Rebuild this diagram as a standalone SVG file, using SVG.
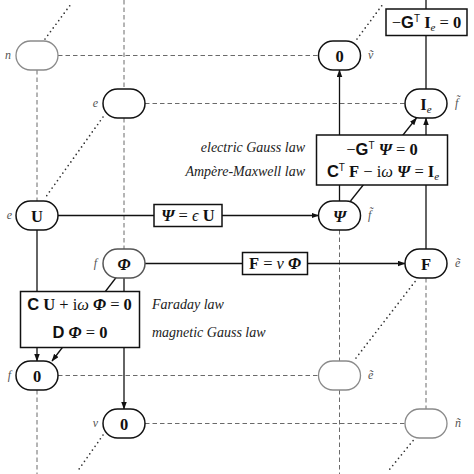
<svg xmlns="http://www.w3.org/2000/svg" width="474" height="474" viewBox="0 0 474 474">
<style>
.dash{stroke:#6a6a6a;stroke-width:1;stroke-dasharray:4.5 3;fill:none}
.dot{stroke:#333;stroke-width:1.7;stroke-linecap:round;stroke-dasharray:0 4.6;fill:none}
.ln{stroke:#111;stroke-width:1.3;fill:none}
.arr{stroke:#111;stroke-width:1.3;fill:none;marker-end:url(#ah)}
.nd{fill:#fff;stroke:#111;stroke-width:1.5}
.ng{fill:#fff;stroke:#8a8a8a;stroke-width:1.3}
.box{fill:#fff;stroke:#111;stroke-width:1.5}
text{font-family:"Liberation Serif","Times New Roman",serif;fill:#111}
.eq{font-size:16.5px}
.b{font-weight:bold}
.bi{font-weight:bold;font-style:italic}
.it{font-style:italic}
.sf{font-family:"Liberation Sans",Arial,sans-serif;font-weight:bold}
.sup{font-family:"Liberation Sans",Arial,sans-serif;font-size:10px}
.sub{font-style:italic;font-size:11px}
.lbl{font-size:12px;font-style:italic;fill:#555}
.law{font-size:14px;font-style:italic;fill:#222}
</style>
<defs>
<marker id="ah" markerWidth="8" markerHeight="6" refX="7" refY="2.75" orient="auto" markerUnits="userSpaceOnUse">
<path d="M0,0 L7.5,2.75 L0,5.5 z" fill="#111"/>
</marker>
</defs>
<g id="grid">
<line class="dash" x1="58" y1="55.5" x2="318.5" y2="55.5"/>
<line class="dash" x1="145" y1="103.5" x2="405" y2="103.5"/>
<line class="dash" x1="58" y1="375.5" x2="318.5" y2="375.5"/>
<line class="dash" x1="145" y1="423.5" x2="405" y2="423.5"/>
<line class="dash" x1="37" y1="70" x2="37" y2="201"/>
<line class="dash" x1="37" y1="390" x2="37" y2="474"/>
<line class="dash" x1="124" y1="0" x2="124" y2="89"/>
<line class="dash" x1="124" y1="118" x2="124" y2="249"/>
<line class="dash" x1="339.5" y1="230" x2="339.5" y2="361"/>
<line class="dash" x1="339.5" y1="390" x2="339.5" y2="474"/>
<line class="dash" x1="426" y1="278" x2="426" y2="409"/>
<line class="dot" x1="45" y1="39" x2="71" y2="4"/>
<line class="dot" x1="103" y1="117" x2="45" y2="198"/>
<line class="dot" x1="357" y1="39" x2="383" y2="4"/>
<line class="dot" x1="356" y1="358" x2="417" y2="279"/>
<line class="dot" x1="416" y1="437" x2="389" y2="470"/>
<line class="dot" x1="103" y1="435" x2="77" y2="472"/>
</g>
<g id="connectors">
<line class="ln" x1="426" y1="0" x2="426" y2="89"/>
<line class="arr" x1="339.5" y1="135" x2="339.5" y2="70"/>
<line class="arr" x1="426" y1="135" x2="426" y2="118"/>
<line class="arr" x1="350.5" y1="201" x2="416.5" y2="118"/>
<line class="ln" x1="339.5" y1="201" x2="339.5" y2="185"/>
<line class="ln" x1="426" y1="249" x2="426" y2="185"/>
<line class="arr" x1="58" y1="215.5" x2="318.5" y2="215.5"/>
<line class="arr" x1="145" y1="263.5" x2="405" y2="263.5"/>
<line class="ln" x1="37" y1="230" x2="37" y2="292"/>
<line class="ln" x1="124" y1="278" x2="124" y2="292"/>
<line class="arr" x1="116.5" y1="277" x2="52" y2="361"/>
<line class="arr" x1="37" y1="348" x2="37" y2="361"/>
<line class="arr" x1="124" y1="348" x2="124" y2="409"/>
</g>
<g id="laws">
<text class="law" x="305" y="152" text-anchor="end">electric Gauss law</text>
<text class="law" x="305" y="176" text-anchor="end">Ampère-Maxwell law</text>
<text class="law" x="152" y="309">Faraday law</text>
<text class="law" x="152" y="337">magnetic Gauss law</text>
</g>
<g id="eq-top">
<rect class="box" x="386" y="9" width="81" height="26.5"/>
<text class="eq" x="426.5" y="28" text-anchor="middle">−<tspan class="sf">G</tspan><tspan class="sup" dy="-6">T</tspan><tspan dy="6"> </tspan><tspan class="b">I</tspan><tspan class="sub" dy="3">e</tspan><tspan dy="-3"> = </tspan><tspan class="b">0</tspan></text>
</g>
<g id="eq-right">
<rect class="box" x="316.5" y="135" width="131" height="50"/>
<text class="eq" x="382" y="155" text-anchor="middle">−<tspan class="sf">G</tspan><tspan class="sup" dy="-6">T</tspan><tspan dy="6"> </tspan><tspan class="bi">Ψ</tspan> = <tspan class="b">0</tspan></text>
<text class="eq" x="383" y="177" text-anchor="middle"><tspan class="sf">C</tspan><tspan class="sup" dy="-6">T</tspan><tspan dy="6"> </tspan><tspan class="b">F</tspan> − i<tspan class="it">ω</tspan> <tspan class="bi">Ψ</tspan> = <tspan class="b">I</tspan><tspan class="sub" dy="3">e</tspan></text>
</g>
<g id="eq-psi">
<rect class="box" x="154" y="204.5" width="68" height="22"/>
<text class="eq" x="188" y="221" text-anchor="middle"><tspan class="bi">Ψ</tspan> = <tspan class="it">ϵ</tspan> <tspan class="b">U</tspan></text>
</g>
<g id="eq-f">
<rect class="box" x="242.5" y="252.5" width="65" height="22"/>
<text class="eq" x="275" y="269" text-anchor="middle"><tspan class="b">F</tspan> = <tspan class="it">ν</tspan> <tspan class="bi">Φ</tspan></text>
</g>
<g id="eq-left">
<rect class="box" x="20.5" y="291.5" width="119" height="56"/>
<text class="eq" x="79.5" y="310" text-anchor="middle"><tspan class="sf">C</tspan> <tspan class="b">U</tspan> + i<tspan class="it">ω</tspan> <tspan class="bi">Φ</tspan> = <tspan class="b">0</tspan></text>
<text class="eq" x="80" y="338" text-anchor="middle"><tspan class="sf">D</tspan> <tspan class="bi">Φ</tspan> = <tspan class="b">0</tspan></text>
</g>
<g id="node-n">
<rect class="ng" x="16" y="41" width="42" height="29" rx="14.5"/>
<text class="lbl" x="11" y="59" text-anchor="end">n</text>
</g>
<g id="node-e-top">
<rect class="nd" x="103" y="89" width="42" height="29" rx="14.5"/>
<text class="lbl" x="98" y="107" text-anchor="end">e</text>
</g>
<g id="node-v-tilde">
<rect class="nd" x="318.5" y="41" width="42" height="29" rx="14.5"/>
<text class="eq b" x="339.5" y="61.5" text-anchor="middle">0</text>
<text class="lbl" x="368" y="59">ṽ</text>
</g>
<g id="node-Ie">
<rect class="nd" x="405" y="89" width="42" height="29" rx="14.5"/>
<text class="eq" x="426" y="109.5" text-anchor="middle"><tspan class="b">I</tspan><tspan class="sub" dy="3">e</tspan></text>
<text class="lbl" x="455" y="107">f̃</text>
</g>
<g id="node-U">
<rect class="nd" x="16" y="201" width="42" height="29" rx="14.5"/>
<text class="eq b" x="37" y="221.5" text-anchor="middle">U</text>
<text class="lbl" x="12" y="219" text-anchor="end">e</text>
</g>
<g id="node-Phi">
<rect class="nd" style="stroke:#555" x="103" y="249" width="42" height="29" rx="14.5"/>
<text class="eq bi" x="124" y="269.5" text-anchor="middle">Φ</text>
<text class="lbl" x="97" y="267" text-anchor="end">f</text>
</g>
<g id="node-Psi">
<rect class="nd" x="318.5" y="201" width="42" height="29" rx="14.5"/>
<text class="eq bi" x="339.5" y="221.5" text-anchor="middle">Ψ</text>
<text class="lbl" x="368" y="219">f̃</text>
</g>
<g id="node-F">
<rect class="nd" x="405" y="249" width="42" height="29" rx="14.5"/>
<text class="eq b" x="426" y="269.5" text-anchor="middle">F</text>
<text class="lbl" x="455" y="267">ẽ</text>
</g>
<g id="node-0f">
<rect class="nd" x="16" y="361" width="42" height="29" rx="14.5"/>
<text class="eq b" x="37" y="381.5" text-anchor="middle">0</text>
<text class="lbl" x="11" y="379" text-anchor="end">f</text>
</g>
<g id="node-0v">
<rect class="nd" x="103" y="409" width="42" height="29" rx="14.5"/>
<text class="eq b" x="124" y="429.5" text-anchor="middle">0</text>
<text class="lbl" x="98" y="427" text-anchor="end">v</text>
</g>
<g id="node-e-tilde">
<rect class="ng" x="318.5" y="361" width="42" height="29" rx="14.5"/>
<text class="lbl" x="368" y="379">ẽ</text>
</g>
<g id="node-n-tilde">
<rect class="ng" x="405" y="409" width="42" height="29" rx="14.5"/>
<text class="lbl" x="455" y="427">ñ</text>
</g>
</svg>
